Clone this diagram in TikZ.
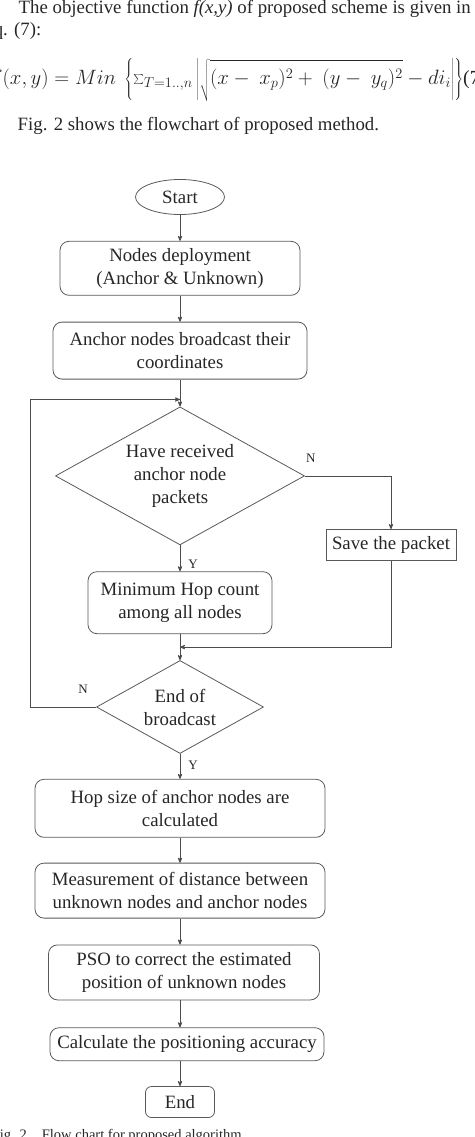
\documentclass[tikz,border=0pt]{standalone}
\usepackage{fontspec}
\setmainfont{Liberation Serif}
\usetikzlibrary{positioning,arrows,shapes.geometric}
\tikzset{
	>=stealth'
}

\begin{document}
\begin{tikzpicture}[
x = 1pt,
y = -1pt,
node distance = 26pt,
line width = 0.8pt,
every node/.style = {
	font = \fontsize{18.8}{23}\selectfont,
	text = black!85
},
prose/.style = {
	font = \fontsize{18.8}{22}\selectfont
},
terminal/.style = {
	draw = black!65,
	ellipse,
	inner sep = 0pt
},
process/.style = {
	draw = black!65,
	rounded corners = 9pt,
	align = center,
	inner sep = 0pt
},
decision/.style = {
	draw = black!65,
	diamond,
	aspect = 1.8,
	align = center,
	inner sep = 0pt
},
store/.style = {
	draw = black!65,
	inner sep = 0pt
},
flag/.style = {
	font = \fontsize{13}{15}\selectfont
},
flow/.style = {
	draw = black!70,
	->
}
]

\useasboundingbox (0,0) rectangle (474,1137);
\clip (0,0) rectangle (474,1137);

\node (intro) [prose, anchor = base west] at (15, 14) {The objective function \textit{f(x,y)} of proposed scheme is given in};
\node (eqref) [prose, anchor = base east] at (45, 36) {Eq. (7):};
\node (objective) [prose, anchor = west, inner sep = 0pt, font = \fontsize{20}{24}\selectfont] at (-10, 80) {$f(x,y) = Min\ \left\{ \textstyle\sum_{T=1..,n} \left| \sqrt{\rule[-16pt]{0pt}{38pt}(x-\ x_p)^2 + \ (y-\ y_q)^2} - di_i \right| \right\}$(7)};
\node (lead) [prose, anchor = base west] at (14, 131) {Fig. 2 shows the flowchart of proposed method.};

\node (start) [terminal, minimum width = 89pt, minimum height = 35pt] at (180, 197) {Start};
\node (deploy) [process, below = of start, minimum width = 240pt, minimum height = 54pt] {Nodes deployment\\(Anchor \& Unknown)};
\node (broadcast) [process, below = of deploy, minimum width = 254pt, minimum height = 57pt] {Anchor nodes broadcast their\\coordinates};
\node (received) [decision, below = 27pt of broadcast, minimum width = 249pt, minimum height = 138pt] {Have received\\anchor node\\packets};
\node (save) [store, minimum width = 130pt, minimum height = 31pt] at (391, 545) {Save the packet};
\node (minhop) [process, below = of received, minimum width = 184pt, minimum height = 62pt] {Minimum Hop count\\among all nodes};
\node (endcast) [decision, below = of minhop, minimum width = 167pt, minimum height = 93pt] {End of\\broadcast};
\node (hopsize) [process, below = 25pt of endcast, minimum width = 290pt, minimum height = 58pt] {Hop size of anchor nodes are\\calculated};
\node (measure) [process, below = 25pt of hopsize, minimum width = 290pt, minimum height = 55pt] {Measurement of distance between\\unknown nodes and anchor nodes};
\node (pso) [process, below = of measure, xshift = 4pt, minimum width = 271pt, minimum height = 55pt] {PSO to correct the estimated\\position of unknown nodes};
\node (accuracy) [process, below = 27pt of pso, xshift = 3pt, minimum width = 274pt, minimum height = 33pt] {Calculate the positioning accuracy};
\node (stop) [process, rounded corners = 6pt, below = 25pt of accuracy, xshift = -7pt, minimum width = 69pt, minimum height = 31pt] {End};

\node (noreceived) [flag] at ([shift = {(6pt, 18pt)}]received.east) {N};
\node (yesreceived) [flag] at ([shift = {(13pt, -19pt)}]received.south) {Y};
\node (noend) [flag] at ([shift = {(-13pt, 18pt)}]endcast.west) {N};
\node (yesend) [flag] at ([shift = {(13pt, -11pt)}]endcast.south) {Y};

\coordinate (loop) at ([yshift = 7pt]received.north);
\coordinate (merge) at ([yshift = -13pt]minhop.south);

\draw [flow] (start) -- (deploy);
\draw [flow] (deploy) -- (broadcast);
\draw [flow] (broadcast) -- (received);
\draw [flow] (received) -- (minhop);
\draw [flow] (received.east) -| (save.north);
\draw [flow] (save.south) |- (merge);
\draw [flow] (minhop) -- (endcast);
\draw [flow] (endcast.west) -- ++(-66,0) |- (loop);
\draw [flow] (endcast) -- (hopsize);
\draw [flow] (hopsize) -- (measure);
\draw [flow] (measure) -- (measure |- pso.north);
\draw [flow] (measure |- pso.south) -- (measure |- accuracy.north);
\draw [flow] (measure |- accuracy.south) -- (measure |- stop.north);

\node (caption) [anchor = base west, font = \fontsize{14.5}{17}\selectfont] at (-12, 1139) {Fig. 2.\hspace{11.5pt}Flow chart for proposed algorithm};

\end{tikzpicture}
\end{document}
